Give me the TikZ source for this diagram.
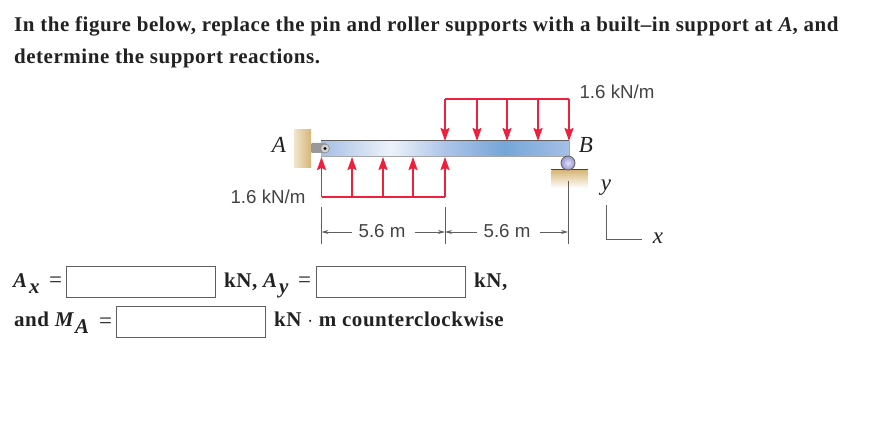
\documentclass[tikz,border=0pt]{standalone}
\usepackage{fontspec}
\setmainfont{Liberation Serif}[LetterSpace=2.5]
\newfontfamily\labelfont{Liberation Sans}
\usetikzlibrary{arrows.meta}
\definecolor{loadred}{RGB}{238,32,62}
\definecolor{inkgray}{RGB}{34,34,34}
\definecolor{dimgray}{RGB}{95,95,95}
\definecolor{sand}{RGB}{214,182,118}
\pgfdeclarehorizontalshading{beamshade}{100bp}{
  rgb(0bp)=(0.65,0.75,0.90); rgb(25bp)=(0.65,0.75,0.90);
  rgb(39bp)=(0.93,0.95,0.98); rgb(50bp)=(0.68,0.77,0.91);
  rgb(62bp)=(0.46,0.65,0.85); rgb(75bp)=(0.65,0.75,0.90); rgb(100bp)=(0.65,0.75,0.90)}
\tikzset{
  prompt/.style={anchor=base west,inner sep=0pt,text=inkgray,font=\fontsize{21}{24}\selectfont\bfseries},
  subletter/.style={prompt,font=\fontsize{21}{24}\selectfont\bfseries\itshape},
  equals/.style={prompt,font=\fontsize{23}{24}\selectfont},
  answerbox/.style={draw=dimgray,line width=1pt,minimum width=149pt,minimum height=31pt,inner sep=0pt,anchor=north west},
  loadline/.style={loadred,line width=1.8pt},
  loadarrow/.style={loadred,line width=1.8pt,-{Stealth[length=13pt,width=9pt,inset=2pt]}},
  dimline/.style={dimgray,line width=0.7pt},
  dimarrow/.style={dimgray,line width=0.7pt,-{Stealth[length=7pt,width=4pt]}},
  loadlabel/.style={inner sep=0pt,text=dimgray!70!black,font=\labelfont\fontsize{18.7}{20}\selectfont},
  letter/.style={inner sep=0pt,text=inkgray,font=\fontsize{23}{26}\selectfont\itshape},
}
\begin{document}
\begin{tikzpicture}[x=1pt,y=-1pt]
  \useasboundingbox (0,0) rectangle (874,422);
  % prompt text
  \node[prompt] (line1) at (14,32) {In the figure below, replace the pin and roller supports with a built--in support at \textit{A}, and};
  \node[prompt] (line2) at (14,64) {determine the support reactions.};
  % supports
  \node[inner sep=0pt,minimum width=17pt,minimum height=37pt,left color=sand!35,right color=sand] (wall) at (302.5,148.5) {};
  \node[inner sep=0pt,minimum width=36pt,minimum height=18pt,top color=sand,bottom color=white] (ground) at (569.5,179) {};
  \draw[dimgray!70!black,line width=1pt] (ground.north west) -- (ground.north east);
  % beam
  \node[inner sep=0pt,minimum width=248pt,minimum height=15pt,shading=beamshade,shading angle=0] (beam) at (445,148.5) {};
  \draw[dimgray,line width=1pt] (beam.north west) -- (beam.north east);
  \draw[gray!70,line width=1pt] (beam.south west) -- (beam.south east);
  \draw[gray!70,line width=0.8pt] (beam.north east) -- (beam.south east);
  \fill[gray!80,rounded corners=1pt] (311,143) rectangle (326,153);
  \node[circle,fill=gray!35,draw=gray,line width=0.5pt,minimum size=9pt,inner sep=0pt] (pin) at (325,148.5) {};
  \fill (pin) circle (1.6);
  \node[circle,draw=dimgray,line width=0.8pt,inner color=blue!12!white,outer color=blue!35!gray!60,minimum size=14pt,inner sep=0pt] (roller) at (568,163) {};
  % loads
  \coordinate (topl) at (445,99);
  \coordinate (topr) at (569,99);
  \draw[loadline] (topl) -- (topr);
  \foreach \x/\name in {445/a,477/b,507/c,538/d,569/e} {
    \coordinate (top\name) at (\x,99);
    \coordinate (tip\name) at (\x,141);
    \draw[loadarrow] (top\name) -- (tip\name);
  }
  \coordinate (lowl) at (321.5,197);
  \coordinate (lowr) at (445,197);
  \draw[loadline] (lowl) -- (lowr);
  \foreach \x/\name in {321.5/a,352/b,383/c,413/d,445/e} {
    \coordinate (low\name) at (\x,197);
    \coordinate (up\name) at (\x,157);
    \draw[loadarrow] (low\name) -- (up\name);
  }
  \node[loadlabel] (loadtop) at (617,92) {1.6 kN/m};
  \node[loadlabel] (loadlow) at (268,197) {1.6 kN/m};
  \node[letter] (A) at (279,145) {A};
  \node[letter] (B) at (586,145) {B};
  % dimensions
  \coordinate (ext1a) at (321.5,207); \coordinate (ext1b) at (321.5,244);
  \coordinate (ext2a) at (445,207);   \coordinate (ext2b) at (445,244);
  \coordinate (ext3a) at (568,181);   \coordinate (ext3b) at (568,244);
  \draw[dimline] (ext1a) -- (ext1b);
  \draw[dimline] (ext2a) -- (ext2b);
  \draw[dimline] (ext3a) -- (ext3b);
  \node[loadlabel] (dim1) at (382,231) {5.6 m};
  \node[loadlabel] (dim2) at (507,231) {5.6 m};
  \coordinate (d1l) at (321.5,232); \coordinate (d2m) at (445,232); \coordinate (d3r) at (568,232);
  \draw[dimarrow] (dim1.west) ++(-6,1) -- (d1l);
  \draw[dimarrow] (dim1.east) ++(9,1) -- (d2m);
  \draw[dimarrow] (dim2.west) ++(-6,1) -- (d2m);
  \draw[dimarrow] (dim2.east) ++(9,1) -- (d3r);
  % axes
  \coordinate (orig) at (606,239);
  \node[letter] (ylab) at (606,188) {y};
  \node[letter] (xlab) at (658,238) {x};
  \coordinate (yend) at (606,205);
  \coordinate (xend) at (642,239);
  \draw[dimgray,line width=1pt] (yend) -- (orig) -- (xend);
  % answers
  \node[answerbox] (Ax) at (66,266) {};
  \node[answerbox] (Ay) at (316,266) {};
  \node[answerbox] (MA) at (116,306) {};
  \node[subletter] (axa) at (13,287) {A};
  \node[subletter] (axx) at (29,293) {x};
  \node[equals] (axeq) at (49,287.5) {=};
  \node[prompt] (kn1) at (224,287) {kN, \textit{A}};
  \node[subletter] (ayy) at (279,293) {y};
  \node[equals] (ayeq) at (298,287.5) {=};
  \node[prompt] (kn2) at (474,287) {kN,};
  \node[prompt] (andm) at (14,326) {and \textit{M}};
  \node[subletter] (maa) at (75,333) {A};
  \node[equals] (maeq) at (99,328) {=};
  \node[prompt] (kn3) at (274,326) {kN $\cdot$ m counterclockwise};
\end{tikzpicture}
\end{document}
